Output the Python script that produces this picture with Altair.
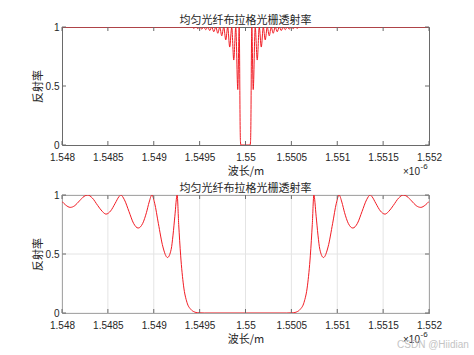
import altair as alt
import pandas as pd

# ---- data (x in units of 1e-6 m) ----
top_x = [1.548, 1.5493, 1.549414, 1.549436, 1.549458, 1.54948, 1.549502, 1.549523,
         1.549545, 1.549567, 1.549589, 1.54961, 1.549632, 1.549654, 1.549676, 1.549698,
         1.54972, 1.549741, 1.549763, 1.549785, 1.549806, 1.549828, 1.54985, 1.549872,
         1.549894, 1.549916, 1.549931, 1.549934, 1.549938, 1.549941, 1.549945, 1.54995,
         1.55,
         1.55005, 1.550055, 1.550059, 1.550062, 1.550066, 1.550069, 1.550084, 1.550106,
         1.550128, 1.55015, 1.550172, 1.550194, 1.550215, 1.550237, 1.550259, 1.55028,
         1.550302, 1.550324, 1.550346, 1.550368, 1.55039, 1.550411, 1.550433, 1.550455,
         1.550477, 1.550498, 1.55052, 1.550542, 1.550564, 1.550586, 1.5507, 1.552]
top_y = [1.0, 1.0, 1.0, 0.989, 1.0, 0.986, 1.0, 0.982,
         1.0, 0.977, 1.0, 0.970, 1.0, 0.960, 1.0, 0.947,
         1.0, 0.925, 1.0, 0.890, 1.0, 0.830, 1.0, 0.720,
         1.0, 0.470, 1.0, 0.90, 0.50, 0.20, 0.03, 0.0,
         0.0,
         0.0, 0.03, 0.20, 0.50, 0.90, 1.0, 0.470, 1.0,
         0.720, 1.0, 0.830, 1.0, 0.890, 1.0, 0.925, 1.0,
         0.947, 1.0, 0.960, 1.0, 0.970, 1.0, 0.977, 1.0,
         0.982, 1.0, 0.986, 1.0, 0.989, 1.0, 1.0, 1.0]

bot_x = [1.54800, 1.54804, 1.54809, 1.54814, 1.54819, 1.54824, 1.54828, 1.54833,
         1.54839, 1.54844, 1.54848, 1.54853, 1.54858, 1.54862, 1.54864, 1.54868,
         1.54873, 1.54878, 1.54883, 1.54888, 1.54892, 1.54895, 1.54898, 1.54901,
         1.54905, 1.54910, 1.54915, 1.54919, 1.54921, 1.54923, 1.549255, 1.549272,
         1.549293, 1.549325, 1.549362, 1.549405, 1.54944, 1.54948, 1.54955,
         1.55000,
         1.55045, 1.55052, 1.55056, 1.550595, 1.550638, 1.550675, 1.550707, 1.550728,
         1.550745, 1.55077, 1.55079, 1.55081, 1.55085, 1.5509, 1.55095, 1.55099,
         1.55102, 1.55105, 1.55108, 1.55112, 1.55117, 1.55122, 1.55127, 1.55132,
         1.55136, 1.55138, 1.55142, 1.55147, 1.55152, 1.55156, 1.55161, 1.55167,
         1.55172, 1.55176, 1.55181, 1.55186, 1.55191, 1.55196, 1.55200]
bot_y = [0.945, 0.915, 0.895, 0.910, 0.950, 0.988, 1.000, 0.975,
         0.910, 0.860, 0.838, 0.865, 0.930, 0.985, 1.000, 0.960,
         0.860, 0.760, 0.720, 0.760, 0.850, 0.940, 1.000, 0.930,
         0.760, 0.560, 0.470, 0.540, 0.660, 0.820, 1.000, 0.750,
         0.490, 0.230, 0.090, 0.030, 0.010, 0.002, 0.000,
         0.000,
         0.000, 0.002, 0.010, 0.030, 0.090, 0.230, 0.490, 0.750,
         1.000, 0.820, 0.660, 0.540, 0.470, 0.560, 0.760, 0.930,
         1.000, 0.940, 0.850, 0.760, 0.720, 0.760, 0.860, 0.960,
         1.000, 0.985, 0.930, 0.865, 0.838, 0.860, 0.910, 0.975,
         1.000, 0.988, 0.950, 0.910, 0.895, 0.915, 0.945]

x_ticks = [1.548, 1.5485, 1.549, 1.5495, 1.55, 1.5505, 1.551, 1.5515, 1.552]
y_ticks = [0, 0.5, 1]
title_text = "均匀光纤布拉格光栅透射率"
x_title = "波长/m"
y_title = "反射率"
exp_base = ["×10"]
exp_power = ["-6"]
watermark = ["CSDN @Hiidian"]

W, H = 367, 118
AX = "#262626"
FRAME = "#6a6a6a"


def panel(xs, ys, grid, mark_text=False):
    curve = pd.DataFrame({"x": xs, "y": ys})
    xt = pd.DataFrame({"x": x_ticks})
    yt = pd.DataFrame({"y": y_ticks})
    xscale = alt.Scale(domain=[1.548, 1.552], nice=False, zero=False)
    yscale = alt.Scale(domain=[0, 1], nice=False, zero=False)
    layers = []
    if grid:
        layers.append(alt.Chart(xt).mark_rule(color="#e4e4e4", strokeWidth=1).encode(
            x=alt.X("x:Q", scale=xscale)))
        layers.append(alt.Chart(yt).mark_rule(color="#e4e4e4", strokeWidth=1).encode(
            y=alt.Y("y:Q", scale=yscale)))
    layers.append(alt.Chart(curve).mark_line(
        color="#f21c24", strokeWidth=1, interpolate="monotone", clip=True).encode(
        x=alt.X("x:Q", scale=xscale,
                axis=alt.Axis(values=x_ticks, format="~g", title=x_title,
                              labelPadding=7, titlePadding=3, labelFlush=False)),
        y=alt.Y("y:Q", scale=yscale,
                axis=alt.Axis(values=y_ticks, format="~g", title=y_title,
                              labelPadding=3, titlePadding=2, labelFlush=False))))
    # inward ticks like MATLAB
    layers.append(alt.Chart(xt).mark_rule(color=FRAME, strokeWidth=1).encode(
        x=alt.X("x:Q", scale=xscale), y=alt.value(H), y2=alt.value(H - 4)))
    layers.append(alt.Chart(xt).mark_rule(color=FRAME, strokeWidth=1).encode(
        x=alt.X("x:Q", scale=xscale), y=alt.value(0), y2=alt.value(4)))
    layers.append(alt.Chart(yt).mark_rule(color=FRAME, strokeWidth=1).encode(
        y=alt.Y("y:Q", scale=yscale), x=alt.value(0), x2=alt.value(4)))
    layers.append(alt.Chart(yt).mark_rule(color=FRAME, strokeWidth=1).encode(
        y=alt.Y("y:Q", scale=yscale), x=alt.value(W), x2=alt.value(W - 4)))
    # x 10^-6 multiplier
    layers.append(alt.Chart(pd.DataFrame({"t": exp_base})).mark_text(
        align="right", baseline="middle", font="Liberation Sans", fontSize=10,
        color=AX).encode(text="t:N", x=alt.value(358), y=alt.value(145)))
    layers.append(alt.Chart(pd.DataFrame({"t": exp_power})).mark_text(
        align="left", baseline="middle", font="Liberation Sans", fontSize=8,
        color=AX).encode(text="t:N", x=alt.value(358.5), y=alt.value(140)))
    if mark_text:
        layers.append(alt.Chart(pd.DataFrame({"t": watermark})).mark_text(
            align="center", baseline="middle", font="Liberation Sans", fontSize=10,
            color="#c4c4c4").encode(text="t:N", x=alt.value(371), y=alt.value(150)))
    return alt.layer(*layers).properties(
        width=W, height=H,
        title=alt.TitleParams(title_text, font="Noto Sans CJK SC", fontSize=11,
                              fontWeight="normal", color=AX, offset=-3.5,
                              anchor="middle", frame="group"))


top = panel(top_x, top_y, grid=False)
bottom = panel(bot_x, bot_y, grid=True, mark_text=True)

chart = alt.vconcat(top, bottom, spacing=50, bounds="flush").properties(
    padding={"left": 31, "top": 14, "right": 0, "bottom": 0},
    background="white",
).configure_view(
    stroke=FRAME, strokeWidth=1
).configure_axis(
    domain=False, ticks=False, grid=False,
    labelFont="Liberation Sans", labelFontSize=10, labelColor=AX,
    titleFont="Noto Sans CJK SC", titleFontSize=11, titleFontWeight="normal",
    titleColor=AX,
)

chart.save("out.html", embed_options={"renderer": "svg", "actions": False})
